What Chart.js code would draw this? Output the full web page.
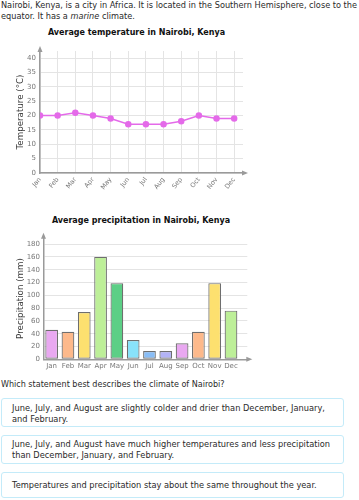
<!DOCTYPE html>
<html><head><meta charset="utf-8">
<script src="https://cdn.jsdelivr.net/npm/chart.js@4"></script>
<style>
html,body{margin:0;padding:0;background:#fff}
body{width:359px;height:500px;overflow:hidden;position:relative;font-family:"DejaVu Sans",Verdana,sans-serif;color:#2a2a2a}
.p{position:absolute;left:1px;font-size:8.2px;line-height:11px;white-space:nowrap}
.t{position:absolute;left:0;text-align:center;font-size:8px;line-height:10px;font-weight:bold;color:#111;white-space:nowrap}
.box{position:absolute;left:1px;width:343px;border:1.5px solid #c4ebf9;border-radius:3px;box-sizing:border-box;padding-left:10px;font-size:8.25px;line-height:11px;white-space:nowrap}
canvas{position:absolute;left:0}
</style>
</head><body>
<div class="p" style="top:0px">Nairobi, Kenya, is a city in Africa. It is located in the Southern Hemisphere, close to the<br>equator. It has a <i>marine</i> climate.</div>
<div class="t" style="top:28.3px;width:273px">Average temperature in Nairobi, Kenya</div>
<div class="t" style="top:215.7px;width:282px">Average precipitation in Nairobi, Kenya</div>
<canvas id="c1" style="top:25px;width:273px;height:173px" width="273" height="173"></canvas>
<canvas id="c2" style="top:200px;width:282px;height:175px" width="282" height="175"></canvas>
<div class="p" style="top:379px;font-size:8.05px">Which statement best describes the climate of Nairobi?</div>
<div class="box" style="top:398px;height:29px;padding-top:4px">June, July, and August are slightly colder and drier than December, January,<br>and February.</div>
<div class="box" style="top:435px;height:29px;padding-top:3px">June, July, and August have much higher temperatures and less precipitation<br>than December, January, and February.</div>
<div class="box" style="top:472px;height:26px;padding-top:7px">Temperatures and precipitation stay about the same throughout the year.</div>
<script>
const months = ['Jan','Feb','Mar','Apr','May','Jun','Jul','Aug','Sep','Oct','Nov','Dec'];
const tempValues = [20,20,21,20,19,17,17,17,18,20,19,19];
const tempTicks = [0,5,10,15,20,25,30,35,40];
const precipValues = [46,43,74,160,119,30,13,13,25,43,119,76];
const precipTicks = [0,20,40,60,80,100,120,140,160,180];
const barColors = ['#e9a8f1','#fdb98b','#fde06f','#bdef98','#5ccf86','#88e2fa','#88bdf6','#b3b3f6','#e9a8f1','#fdb98b','#fde06f','#bdef98'];

const FONT = '"DejaVu Sans", Verdana, sans-serif';
const arrows = {
  id: 'arrows',
  afterDraw(c) {
    const {ctx, chartArea: a} = c;
    ctx.save();
    ctx.fillStyle = '#9a9a9a';
    ctx.beginPath();
    ctx.moveTo(a.left, a.top - 5);
    ctx.lineTo(a.left - 2.5, a.top + 1);
    ctx.lineTo(a.left + 2.5, a.top + 1);
    ctx.closePath(); ctx.fill();
    ctx.beginPath();
    ctx.moveTo(a.right + 5, a.bottom);
    ctx.lineTo(a.right - 1, a.bottom - 2.5);
    ctx.lineTo(a.right - 1, a.bottom + 2.5);
    ctx.closePath(); ctx.fill();
    ctx.restore();
  }
};

new Chart(document.getElementById('c1'), {
  type: 'line',
  data: {
    datasets: [{
      data: tempValues.map((v, i) => ({x: i, y: v})),
      borderColor: '#e46ae9',
      backgroundColor: '#e46ae9',
      borderWidth: 1.5,
      pointRadius: 2.5,
      pointHoverRadius: 2.5,
      tension: 0
    }]
  },
  options: {
    responsive: false,
    animation: false,
    devicePixelRatio: 1,
    layout: {padding: {left: 12, right: 30, top: 26, bottom: 0}},
    plugins: {
      legend: {display: false},
      tooltip: {enabled: false},
      title: {display: false}
    },
    scales: {
      x: {
        type: 'linear', min: 0, max: 11.5,
        afterBuildTicks: s => { s.ticks = months.map((m, i) => ({value: i})); },
        afterFit: s => { s.height = 25; },
        ticks: {callback: v => months[v] ?? '', autoSkip: false, minRotation: 52, maxRotation: 52,
          font: {family: FONT, size: 6.5}, color: '#777', padding: 3},
        grid: {color: '#e4e4e4', drawTicks: false},
        border: {color: '#9a9a9a', width: 1.5}
      },
      y: {
        min: 0, max: 42.5,
        afterBuildTicks: s => { s.ticks = tempTicks.map(v => ({value: v})); },
        afterFit: s => { s.width = 28; },
        ticks: {font: {family: FONT, size: 7}, color: '#777', padding: 4},
        grid: {color: '#e4e4e4', drawTicks: false},
        border: {color: '#9a9a9a', width: 1.5},
        title: {display: true, text: 'Temperature (°C)', color: '#3a3a3a', font: {family: FONT, size: 8.7}, padding: {top: 4, bottom: 4}}
      }
    }
  },
  plugins: [arrows]
});

new Chart(document.getElementById('c2'), {
  type: 'bar',
  data: {
    datasets: [{
      data: precipValues.map((v, i) => ({x: i, y: v})),
      backgroundColor: barColors,
      borderColor: '#6e6e6e',
      borderWidth: 1.2,
      borderSkipped: false,
      barPercentage: 0.78,
      categoryPercentage: 1
    }]
  },
  options: {
    responsive: false,
    animation: false,
    devicePixelRatio: 1,
    layout: {padding: {left: 12, right: 34.7, top: 37.7, bottom: 0}},
    plugins: {
      legend: {display: false},
      tooltip: {enabled: false},
      title: {display: false}
    },
    scales: {
      x: {
        type: 'linear', min: -0.5, max: 12, offset: false,
        afterBuildTicks: s => { s.ticks = months.map((m, i) => ({value: i})); },
        afterFit: s => { s.height = 15.7; },
        ticks: {callback: v => months[v] ?? '', autoSkip: false, maxRotation: 0, minRotation: 0,
          font: {family: FONT, size: 7}, color: '#777', padding: 3},
        grid: {display: false, offset: false, drawTicks: false},
        border: {display: true, color: '#9a9a9a', width: 1.5}
      },
      y: {
        min: 0, max: 190,
        afterBuildTicks: s => { s.ticks = precipTicks.map(v => ({value: v})); },
        afterFit: s => { s.width = 31.5; },
        ticks: {font: {family: FONT, size: 7}, color: '#777', padding: 3.5},
        grid: {color: '#e4e4e4', drawTicks: false},
        border: {color: '#9a9a9a', width: 1.5},
        title: {display: true, text: 'Precipitation (mm)', color: '#3a3a3a', font: {family: FONT, size: 8.7}, padding: {top: 4, bottom: 4}}
      }
    }
  },
  plugins: [arrows]
});
</script>
</body></html>
